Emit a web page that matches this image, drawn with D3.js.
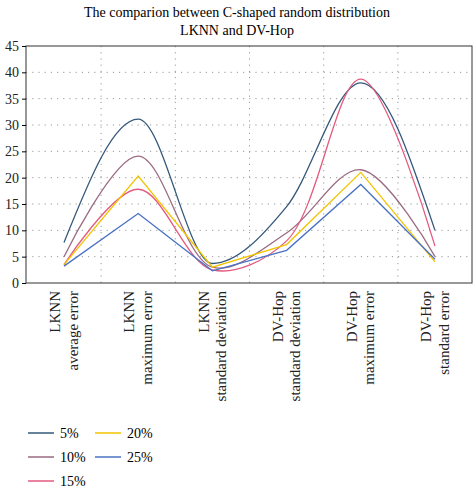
<!DOCTYPE html><html><head><script src="https://d3js.org/d3.v7.min.js"></script>
<style>body{margin:0;background:#fff}</style></head><body><svg id="c" width="474" height="492"></svg>
<script>
const categories=[["LKNN","average error"],["LKNN","maximum error"],["LKNN","standard deviation"],["DV-Hop","standard deviation"],["DV-Hop","maximum error"],["DV-Hop","standard error"]];
const seriesNames=["5%","10%","15%","20%","25%"];
const s5=[7.7,31.1,3.7,14.5,38.0,10.0];
const s10=[5.0,24.1,3.0,9.5,21.5,5.0];
const s15=[3.5,17.8,2.5,8.0,38.7,7.0];
const s20=[3.5,20.3,3.0,7.3,21.0,4.0];
const s25=[3.2,13.2,2.3,6.2,18.7,4.5];
const yTicks=[0,5,10,15,20,25,30,35,40,45];
const colors=["#34587a","#9a6a82","#e35a80","#f2c400","#4a72c4"];
const curves=[d3.curveMonotoneX,d3.curveCatmullRom,d3.curveCatmullRom,d3.curveLinear,d3.curveLinear];
const all=[s5,s10,s15,s20,s25];
const svg=d3.select("#c"),F="Liberation Serif, serif";
const L=26,R=472,T=46,B=283;
const x=d3.scalePoint().domain(d3.range(6)).range([64,435]);
const y=d3.scaleLinear().domain([0,45]).range([B,T]);
svg.append("text").attr("x",237).attr("y",17).attr("text-anchor","middle").attr("font-family",F).attr("font-size",14).text("The comparion between C-shaped random distribution");
svg.append("text").attr("x",237).attr("y",35).attr("text-anchor","middle").attr("font-family",F).attr("font-size",14).text("LKNN and DV-Hop");
const g=svg.append("g");
yTicks.slice(1,-1).forEach(t=>g.append("line").attr("x1",L).attr("x2",R).attr("y1",y(t)).attr("y2",y(t)).attr("stroke","#999").attr("stroke-dasharray","1.2,5"));
d3.range(5).forEach(i=>{const xx=(x(i)+x(i+1))/2;g.append("line").attr("x1",xx).attr("x2",xx).attr("y1",T).attr("y2",B).attr("stroke","#999").attr("stroke-dasharray","1.2,5");});
svg.append("rect").attr("x",L).attr("y",T).attr("width",R-L).attr("height",B-T).attr("fill","none").attr("stroke","#333");
const ya=svg.append("g").attr("transform",`translate(${L},0)`).call(d3.axisLeft(y).tickValues(yTicks).tickSize(4).tickFormat(d3.format("d")));
ya.select(".domain").remove();ya.selectAll("text").attr("font-family",F).attr("font-size",14).attr("fill","#222");
all.forEach((s,i)=>svg.append("path").attr("d",d3.line().x((d,j)=>x(j)).y(d=>y(d)).curve(curves[i])(s)).attr("fill","none").attr("stroke",colors[i]).attr("stroke-width",1.3));
categories.forEach((c,i)=>{const t=svg.append("text").attr("transform",`translate(${x(i)},${B+8}) rotate(-90)`).attr("text-anchor","end").attr("font-family",F).attr("font-size",15).attr("fill","#222");
t.append("tspan").attr("x",0).attr("dy","-0.25em").text(c[0]);t.append("tspan").attr("x",0).attr("dy","1.15em").text(c[1]);});
const lp=[[28,438],[28,462],[28,486],[95,438],[95,462]];
seriesNames.forEach((n,i)=>{svg.append("line").attr("x1",lp[i][0]).attr("x2",lp[i][0]+26).attr("y1",lp[i][1]-5).attr("y2",lp[i][1]-5).attr("stroke",colors[i]).attr("stroke-width",1.5);
svg.append("text").attr("x",lp[i][0]+32).attr("y",lp[i][1]).attr("font-family",F).attr("font-size",14).text(n);});
</script></body></html>
